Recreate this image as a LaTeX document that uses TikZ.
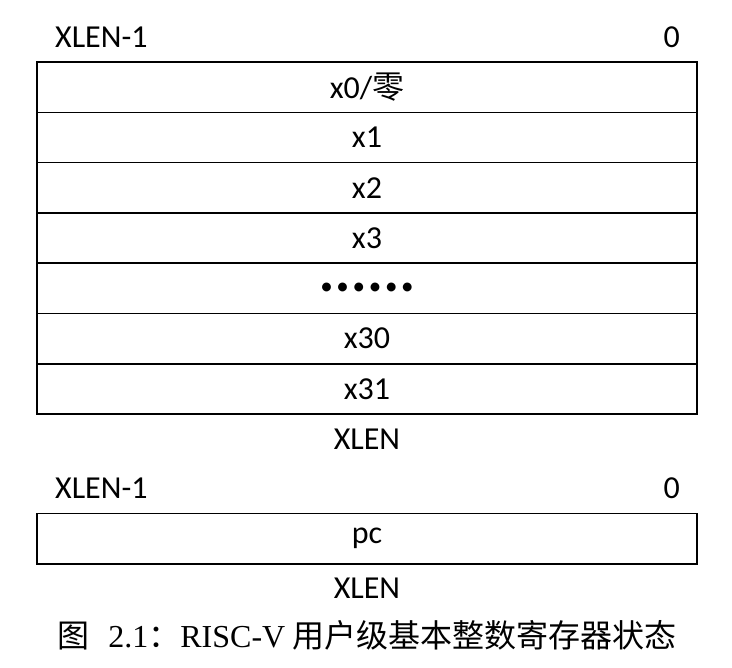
\documentclass[tikz,border=0pt]{standalone}
\usepackage{fontspec}
\setmainfont{Carlito}
\newfontfamily\cjk{Noto Sans CJK SC}
\newfontfamily\capfont{Liberation Serif}
\usetikzlibrary{positioning}

\begin{document}
\begin{tikzpicture}[x=1pt,y=-1pt,
    reg/.style={draw, line width=1.6pt, minimum width=660pt, minimum height=50.3pt,
                inner sep=0pt, outer sep=0pt, font=\fontsize{32}{34}\selectfont},
    lbl/.style={inner sep=0pt, font=\fontsize{32}{34}\selectfont}]
    \useasboundingbox (0,0) rectangle (732,668);

    % Registri interi x0 ... x31
    \node[reg] (r0) at (367,87.2) {x0/{\cjk 零}};
    \foreach \nm/\txt [remember=\nm as \prev (initially r0)] in
        {r1/x1, r2/x2, r3/x3,
         rdots/{\fontsize{25}{27}\selectfont •\hspace{0.15em}•\hspace{0.15em}•\hspace{0.15em}•\hspace{0.15em}•\hspace{0.15em}•},
         r30/x30, r31/x31}
        \node[reg, below=0pt of \prev] (\nm) {\txt};

    % Etichette dei bit
    \node[lbl, anchor=base west] (msb) at (55,47.7) {XLEN-1};
    \node[lbl, anchor=base east] (lsb) at (680,47.7) {0};
    \node[lbl, anchor=base] (xlen) at (367,449.5) {XLEN};

    % Registro pc
    \node[reg] (pc) at (367,538.7) {pc};
    \node[lbl, anchor=base west] (pcmsb) at (55,498.3) {XLEN-1};
    \node[lbl, anchor=base east] (pclsb) at (680,498.3) {0};
    \node[lbl, anchor=base] (pcxlen) at (367,599) {XLEN};

    % Didascalia
    \node[lbl, anchor=west, font=\fontsize{32}{34}\selectfont] (cap) at (57,635)
        {\cjk 图\hspace{0.6em}{\capfont 2.1}：{\capfont RISC-V} 用户级基本整数寄存器状态};
\end{tikzpicture}
\end{document}
